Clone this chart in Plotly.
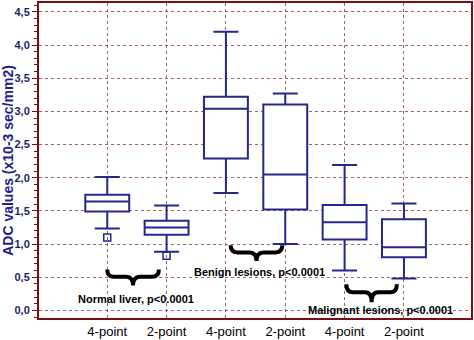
import plotly.graph_objects as go

# ---- data ----
positions = [1, 2, 3, 4, 5, 6]
tick_labels = ["4-point", "2-point", "4-point", "2-point", "4-point", "2-point"]
lower_whisker = [1.235, 0.885, 1.77, 1.00, 0.60, 0.48]
q1 = [1.49, 1.14, 2.29, 1.52, 1.07, 0.80]
median = [1.64, 1.25, 3.04, 2.05, 1.33, 0.95]
q3 = [1.745, 1.35, 3.22, 3.105, 1.59, 1.375]
upper_whisker = [2.01, 1.58, 4.20, 3.27, 2.19, 1.61]
outlier_pos = [1, 2]
outlier_val = [1.10, 0.825]

group_labels = ["Normal liver, p<0.0001", "Benign lesions, p<0.0001", "Malignant lesions, p<0.0001"]
label_x = [1.49, 3.57, 5.60]
label_y = [0.172, 0.573, 0.0]
brace_x0 = [1.0, 3.08, 5.03]
brace_x1 = [1.87, 3.95, 5.88]
brace_top = [0.617, 0.98, 0.395]
brace_tip = [0.375, 0.745, 0.123]

NAVY = "rgb(38,38,140)"
MAROON = "rgb(120,15,20)"
GRID = "rgba(140,70,80,0.85)"

fig = go.Figure()
for i, p in enumerate(positions):
    fig.add_trace(go.Box(
        x=[p], q1=[q1[i]], median=[median[i]], q3=[q3[i]],
        lowerfence=[lower_whisker[i]], upperfence=[upper_whisker[i]],
        width=0.74, whiskerwidth=0.57,
        fillcolor="white", line=dict(color=NAVY, width=2),
        boxpoints=False, showlegend=False, hoverinfo="skip",
    ))

fig.add_trace(go.Scatter(
    x=outlier_pos, y=outlier_val, mode="markers",
    marker=dict(symbol="square-open", size=7, color=NAVY, line=dict(width=1.5, color=NAVY)),
    showlegend=False, hoverinfo="skip",
))

shapes = []
for x0, x1, yt, yb in zip(brace_x0, brace_x1, brace_top, brace_tip):
    xc = (x0 + x1) / 2
    ym = (yt + yb) / 2 + (yt - yb) * 0.05
    d = (x1 - x0) * 0.13
    path = (f"M {x0},{yt} Q {x0},{ym} {x0+d},{ym} L {xc-d},{ym} Q {xc},{ym} {xc},{yb} "
            f"Q {xc},{ym} {xc+d},{ym} L {x1-d},{ym} Q {x1},{ym} {x1},{yt}")
    shapes.append(dict(type="path", path=path, xref="x", yref="y",
                       line=dict(color="black", width=4)))

annotations = []
for t, x, y in zip(group_labels, label_x, label_y):
    annotations.append(dict(text=t, x=x, y=y, xref="x", yref="y", showarrow=False,
                            font=dict(family="Liberation Sans", size=11, color="black", weight="bold"),
                            xanchor="center", yanchor="middle"))

fig.update_layout(
    width=474, height=340,
    margin=dict(l=36, r=2, t=1, b=19),
    paper_bgcolor="white", plot_bgcolor="white",
    separators=",.",
    shapes=shapes, annotations=annotations,
    xaxis=dict(
        range=[-0.15, 7.13], tickvals=positions, ticktext=tick_labels,
        showgrid=True, gridcolor=GRID, griddash="dot", gridwidth=1,
        showline=True, linecolor=MAROON, linewidth=2, mirror=True,
        ticks="", zeroline=False,
        tickfont=dict(family="Liberation Sans", size=13, color="black"),
    ),
    yaxis=dict(
        range=[-0.115, 4.634], tick0=0, dtick=0.5, tickformat=".1f",
        showgrid=True, gridcolor=GRID, griddash="dot", gridwidth=1,
        showline=True, linecolor=MAROON, linewidth=2, mirror=True,
        ticks="outside", ticklen=5, tickcolor=MAROON, tickwidth=1,
        minor=dict(dtick=0.1, ticks="outside", ticklen=3, tickcolor=MAROON, showgrid=False),
        zeroline=False,
        tickfont=dict(family="Liberation Sans", size=11, color="rgb(30,30,110)", weight="bold"),
        title=dict(text="ADC values (x10-3 sec/mm2)", standoff=4,
                   font=dict(family="Liberation Sans", size=14, color="rgb(30,30,140)", weight="bold")),
    ),
)

fig.write_html("out.html")
